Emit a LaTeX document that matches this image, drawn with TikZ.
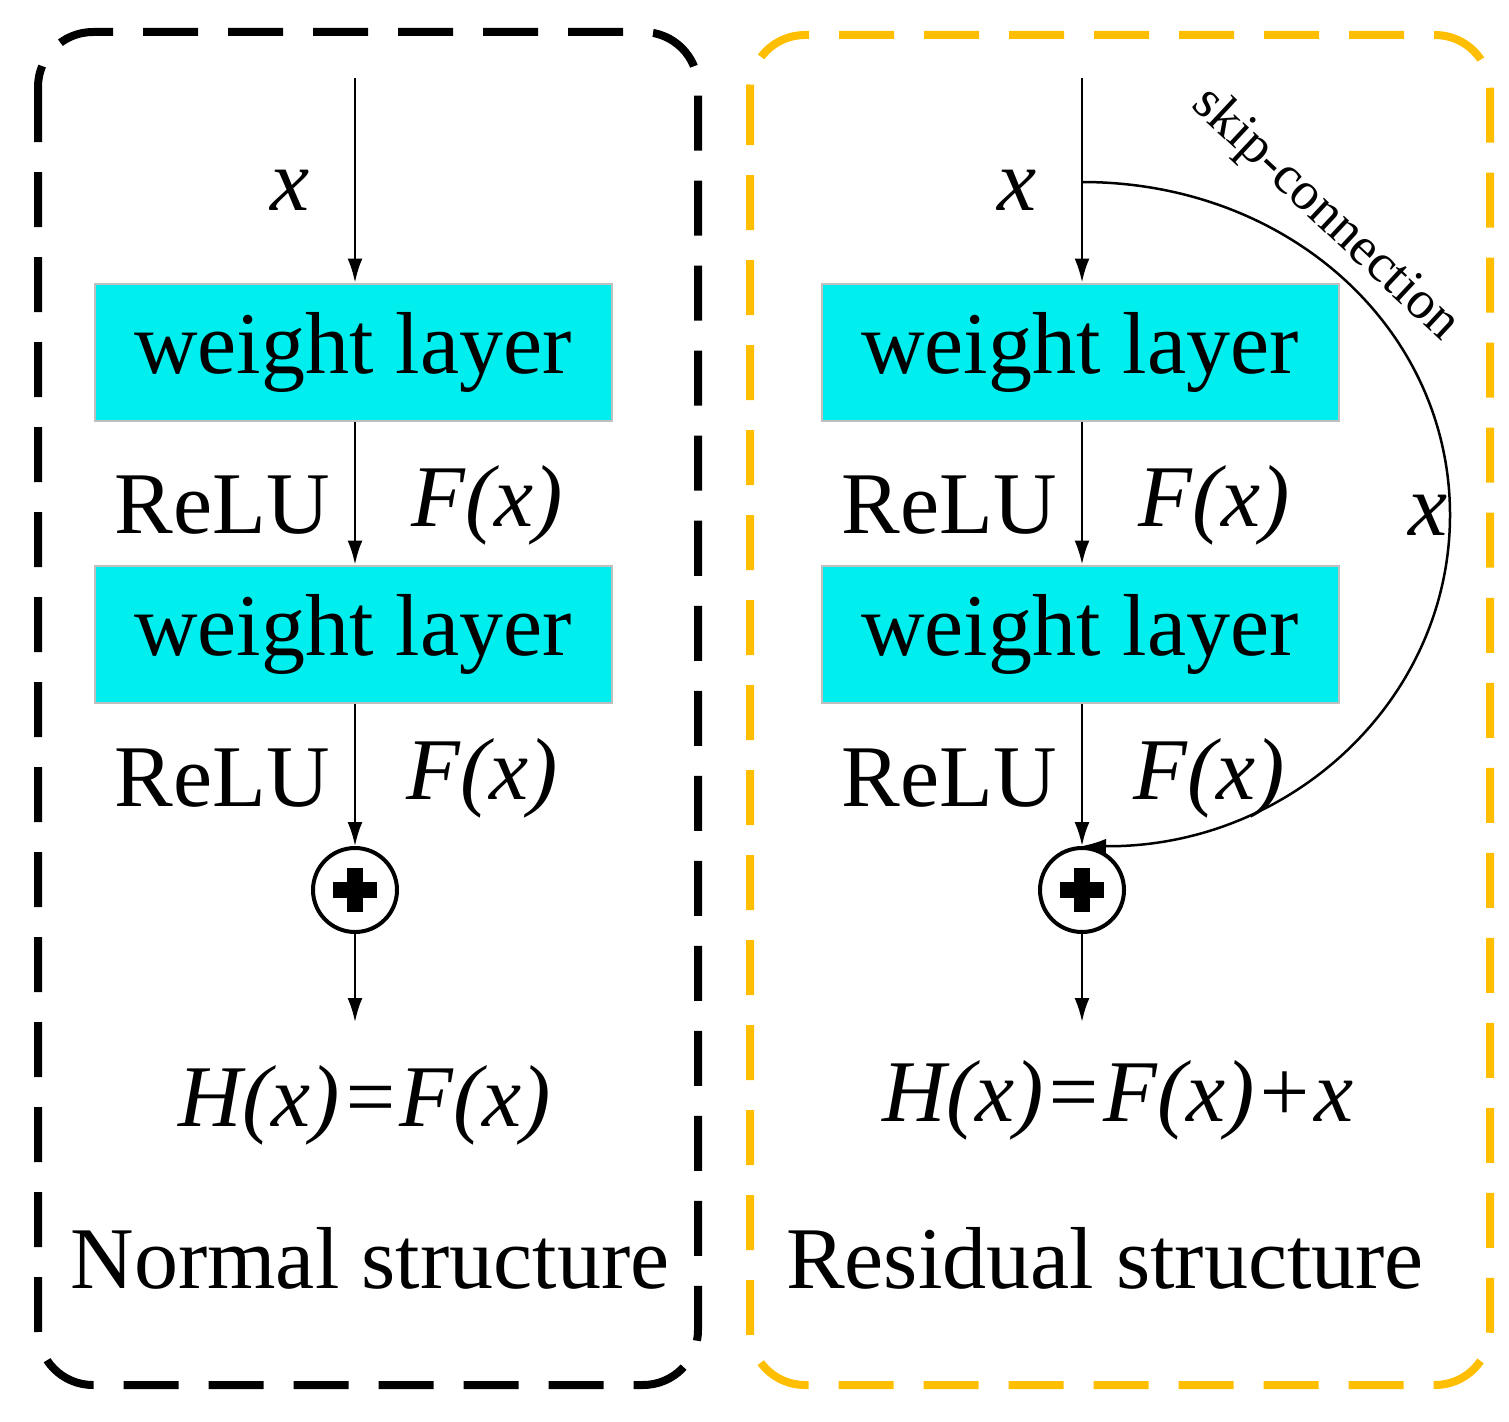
\documentclass[tikz,border=0pt]{standalone}
\usepackage{fontspec}
\setmainfont{Liberation Serif}
\usetikzlibrary{arrows.meta}
\definecolor{orng}{RGB}{255,190,0}
\definecolor{cyn}{RGB}{0,238,238}
\begin{document}
\begin{tikzpicture}[x=1pt,y=-1pt,
 frame/.style={line width=8pt,rounded corners=55pt,dash pattern=on 55pt off 30pt},
 wl/.style={draw=black!25,line width=2pt,fill=cyn,minimum width=517pt,minimum height=137pt,inner sep=0pt,font=\fontsize{88}{88}\selectfont},
 lbl/.style={font=\fontsize{88}{88}\selectfont},
 arr/.style={line width=2.5pt,-{Latex[length=24pt,width=15pt]}},
 plus/.style={circle,draw,line width=4pt,minimum size=84pt,inner sep=0pt}]
\useasboundingbox (0,0) rectangle (1509,1421);
\draw[frame] (38,32) rectangle (698,1385);
\draw[frame,orng] (750,35) rectangle (1490,1385);
\foreach \dx/\p in {0/L,727/R}{
 \begin{scope}[xshift=\dx pt]
 \coordinate (top\p) at (355,78);
 \node[wl] (w1\p) at (353,352) {weight layer};
 \node[wl] (w2\p) at (353,634) {weight layer};
 \node[plus] (pl\p) at (355,890) {};
 \fill (pl\p.center) ++(-8,-22) rectangle ++(16,44);
 \fill (pl\p.center) ++(-22,-8) rectangle ++(44,16);
 \coordinate (out\p) at (355,1022);
 \node[lbl] (x\p) at (290,190) {\itshape x};
 \node[lbl] (r1\p) at (222,505) {ReLU};
 \node[lbl] (f1\p) at (487,505) {\itshape F(x)};
 \node[lbl] (r2\p) at (222,778) {ReLU};
 \node[lbl] (f2\p) at (482,778) {\itshape F(x)};
 \draw[arr] (top\p) -- (w1\p.north -| top\p);
 \draw[arr] (w1\p.south -| top\p) -- (w2\p.north -| top\p);
 \draw[arr] (w2\p.south -| top\p) -- (pl\p.north);
 \draw[arr] (pl\p.south) -- (out\p);
 \end{scope}}
\node[lbl] (hL) at (365,1105) {\itshape H(x)=F(x)};
\node[lbl] (nL) at (370,1258) {Normal structure};
\node[lbl] (hR) at (1118,1100) {\itshape H(x)=F(x)+x};
\node[lbl] (nR) at (1105,1258) {Residual structure};
\coordinate (sk) at (1082,182);
\draw[arr] (sk) .. controls (1290,182) and (1450,330) .. (1450,515) .. controls (1450,700) and (1290,848) .. (plR.north);
\node[lbl] (xs) at (1428,515) {\itshape x};
\node[font=\fontsize{54}{54}\selectfont,rotate=-43] (skl) at (1325,215) {skip-connection};
\end{tikzpicture}
\end{document}
